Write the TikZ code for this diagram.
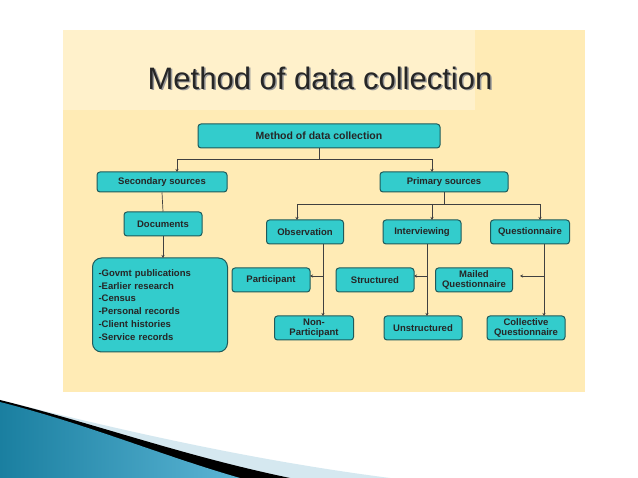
\documentclass[tikz,border=0pt]{standalone}
\usepackage{fontspec}
\setmainfont{Liberation Sans}
\usetikzlibrary{arrows.meta}
\definecolor{panel}{HTML}{FFEBB5}
\definecolor{teal1}{HTML}{33CCCC}
\definecolor{edge1}{HTML}{1F5A5A}
\definecolor{blue1}{HTML}{1A7FA0}
\definecolor{blue2}{HTML}{5BB5D5}
\definecolor{lblue}{HTML}{D5E8F0}
\begin{document}
\begin{tikzpicture}[x=1pt,y=-1pt,
  box/.style={draw=edge1,line width=1pt,fill=teal1,rounded corners=3pt,inner sep=1pt,align=center,font=\bfseries\fontsize{9.5}{10}\selectfont,text=black!85},
  conn/.style={draw=black!75,line width=0.7pt},
  arr/.style={conn,-{Stealth[length=3pt,width=3pt]}}]
\useasboundingbox (0,0) rectangle (638,478);
\fill[white] (0,0) rectangle (638,478);
\fill[panel] (63,30) rectangle (585,392);
\fill[white,opacity=0.3] (63,30) rectangle (475,110);
% swoosh
\fill[lblue] (0,400) .. controls (120,430) and (250,460) .. (390,478) -- (0,478) -- cycle;
\fill[black] (0,400) .. controls (100,425) and (180,455) .. (290,478) -- (0,478) -- cycle;
\shade[left color=blue1,right color=blue2] (0,402) .. controls (90,425) and (160,455) .. (240,478) -- (0,478) -- cycle;
% title
\node[font=\fontsize{31}{34}\selectfont,text=black!40] at (321.5,79.5) {Method of data collection};
\node[font=\fontsize{31}{34}\selectfont,text=black!85] (title) at (320,78) {Method of data collection};
% nodes
\node[box,minimum width=242,minimum height=24,font=\bfseries\fontsize{10.5}{11}\selectfont] (top) at (319,136) {Method of data collection};
\node[box,minimum width=130,minimum height=20] (sec) at (162,182) {Secondary sources};
\node[box,minimum width=128,minimum height=20] (pri) at (444,182) {Primary sources};
\node[box,minimum width=78,minimum height=24] (doc) at (163,224) {Documents};
\node[box,minimum width=77,minimum height=24] (obs) at (305,232) {Observation};
\node[box,minimum width=78,minimum height=24] (int) at (422,232) {Interviewing};
\node[box,minimum width=79,minimum height=24] (que) at (530,232) {Questionnaire};
\node[box,minimum width=135,minimum height=94,rounded corners=9pt,align=left,text width=123pt,inner sep=6pt,font=\bfseries\fontsize{9.5}{12.8}\selectfont] (list) at (160,305) {-Govmt publications\\-Earlier research\\-Census\\-Personal records\\-Client histories\\-Service records};
\node[box,minimum width=78,minimum height=24] (par) at (271,280) {Participant};
\node[box,minimum width=78,minimum height=24] (str) at (375,280) {Structured};
\node[box,minimum width=77,minimum height=24] (mai) at (474,280) {Mailed\\Questionnaire};
\node[box,minimum width=79,minimum height=24] (non) at (314,328) {Non-\\Participant};
\node[box,minimum width=78,minimum height=24] (uns) at (423,328) {Unstructured};
\node[box,minimum width=78,minimum height=24] (col) at (526,328) {Collective\\Questionnaire};
% connectors
\coordinate (j1) at (319,159);
\draw[conn] (top.south) -- (j1);
\draw[arr] (j1) -| (177,172);
\draw[arr] (j1) -| (432,172);
\draw[conn] (sec.south) -- (doc.north);
\draw[arr] (doc.south) -- (163,258);
\coordinate (j2) at (444,204);
\draw[conn] (pri.south) -- (j2);
\draw[arr] (j2) -| (297,220);
\draw[arr] (432,204) -- (432,220);
\draw[arr] (j2) -| (540,220);
\draw[arr] (323,244) -- (323,316);
\draw[arr] (323,276) -- (310,276);
\draw[arr] (427,244) -- (427,316);
\draw[arr] (427,276) -- (414,276);
\draw[arr] (544,244) -- (544,316);
\draw[arr] (544,276) -- (520,276);
\end{tikzpicture}
\end{document}
